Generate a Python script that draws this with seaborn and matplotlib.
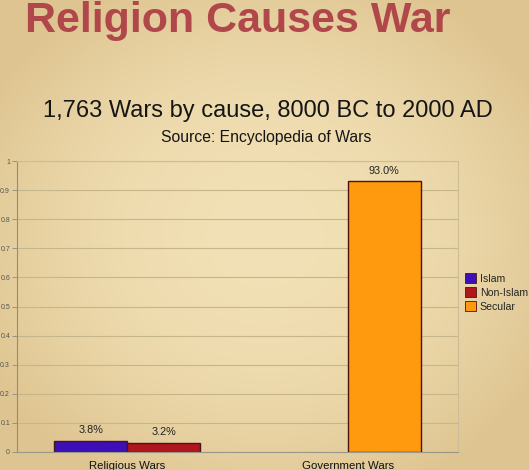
import numpy as np
import pandas as pd
import matplotlib
matplotlib.use("Agg")
import matplotlib.pyplot as plt
import seaborn as sns
from matplotlib.patches import Patch

# ---- data ----
categories = ["Religious Wars", "Government Wars"]
series = ["Islam", "Non-Islam", "Secular"]
series_category = ["Religious Wars", "Religious Wars", "Government Wars"]
series_slot = ["left", "right", "right"]
values = [0.038, 0.032, 0.930]
value_labels = ["3.8%", "3.2%", "93.0%"]
y_ticks = [0, 0.1, 0.2, 0.3, 0.4, 0.5, 0.6, 0.7, 0.8, 0.9, 1]
y_tick_labels = ["0", "0.1", "0.2", "0.3", "0.4", "0.5", "0.6", "0.7", "0.8", "0.9", "1"]
series_colors = ["#3d0fb8", "#b0161c", "#ff9a0e"]

df = pd.DataFrame({"cause": series_category, "slot": series_slot,
                   "series": series, "share": values})

sns.set_theme(style="white")
plt.rcParams["font.family"] = ["Liberation Sans", "DejaVu Sans"]

W, H = 529, 470
bg = "#eedbad"
fig = plt.figure(figsize=(W / 100, H / 100), dpi=100, facecolor=bg)

# parchment vignette
yy, xx = np.mgrid[0:H, 0:W]
r = np.sqrt(((xx - W * 0.5) / (W * 0.6)) ** 2 + ((yy - H * 0.5) / (H * 0.6)) ** 2)
light = np.array([0xf2, 0xe1, 0xb6]) / 255.0
dark = np.array([0xde, 0xc4, 0x90]) / 255.0
t = np.clip(r, 0, 1)[..., None] ** 2
img = light * (1 - t) + dark * t
fig.figimage(img, xo=0, yo=0, zorder=-10)

ax = fig.add_axes([17 / W, 1 - 452 / H, (458 - 17) / W, (452 - 161) / H])
ax.set_facecolor("none")
ax.set_zorder(1)

sns.barplot(data=df, x="cause", y="share", hue="slot", hue_order=["left", "right"],
            order=categories, width=0.66, dodge=True, ax=ax, legend=False,
            edgecolor="#4a1414", linewidth=1.0, saturation=1)

vals = np.array(values)
for p in ax.patches:
    h = p.get_height()
    if not np.isfinite(h) or h <= 0:
        continue
    i = int(np.argmin(np.abs(vals - h)))
    p.set_facecolor(series_colors[i])
    ax.annotate(value_labels[i], xy=(p.get_x() + p.get_width() / 2, h),
                xytext=(0, 4), textcoords="offset points", ha="center", va="bottom",
                fontsize=7.8, color="#222222")

ax.set_ylim(0, 1)
ax.set_yticks(y_ticks)
ax.set_yticklabels(y_tick_labels)
ax.tick_params(axis="y", left=True, length=3.5, width=0.6, color="#8a8a80",
               labelsize=5, labelcolor="#555555", pad=1.5)
ax.tick_params(axis="x", bottom=False, labelsize=8.2, labelcolor="#111111", pad=0.5)
ax.set_xlabel("")
ax.set_ylabel("")
ax.yaxis.grid(True, color="#c5b68c", linewidth=0.8)
ax.set_axisbelow(True)
for s in ["top", "right"]:
    ax.spines[s].set_color("#cbbd98")
    ax.spines[s].set_linewidth(0.8)
ax.spines["left"].set_color("#8f8c80")
ax.spines["left"].set_linewidth(0.8)
ax.spines["bottom"].set_color("#9a968a")
ax.spines["bottom"].set_linewidth(0.8)

handles = [Patch(facecolor=c, edgecolor="#4a1414", linewidth=0.6) for c in series_colors]
fig.legend(handles, series, loc="center left", bbox_to_anchor=(465 / W, 1 - 292.5 / H),
           frameon=False, fontsize=7.6, handlelength=1.05, handleheight=1.05,
           handletextpad=0.35, labelspacing=0.35, borderpad=0, borderaxespad=0)

fig.text(25 / W, 1 - 32 / H, "Religion Causes War", fontsize=31, fontweight="bold",
         color="#b0474a", ha="left", va="baseline")
fig.text(268 / W, 1 - 117 / H, "1,763 Wars by cause, 8000 BC to 2000 AD", fontsize=17,
         color="#151515", ha="center", va="baseline")
fig.text(266 / W, 1 - 142 / H, "Source: Encyclopedia of Wars", fontsize=11.3,
         color="#151515", ha="center", va="baseline")

fig.savefig("out.png", dpi=100, facecolor=bg)
